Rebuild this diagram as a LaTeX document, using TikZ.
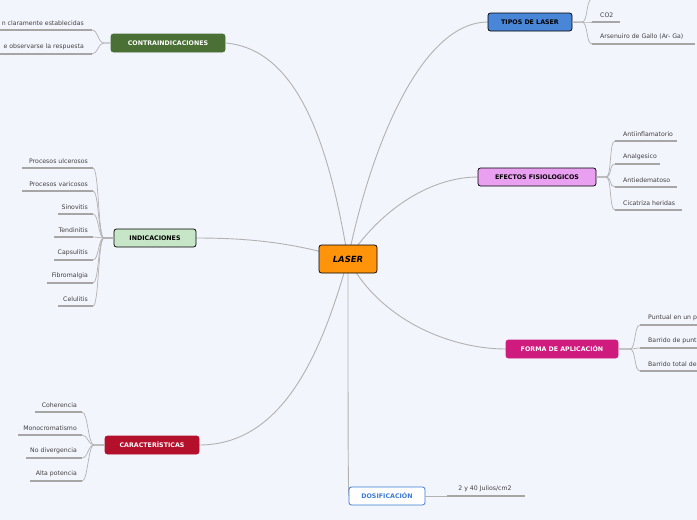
\documentclass[tikz,border=0pt]{standalone}
\usepackage{fontspec}
\setmainfont{DejaVu Sans}
\begin{document}
\begin{tikzpicture}[x=1pt,y=-1pt,
 main/.style={draw=black,rounded corners=2.5pt,font=\fontsize{6.3}{7}\selectfont\bfseries,inner sep=0pt,minimum height=18pt,line width=0.7pt},
 leaf/.style={font=\fontsize{6.2}{7}\selectfont,text=black!75,inner sep=0pt},
 uline/.style={draw=black!35,line width=2.2pt},
 conn/.style={draw=black!30,line width=0.7pt},
 br/.style={draw=black!30,line width=0.9pt}]
\fill[fill={rgb,255:red,243;green,245;blue,253}] (0,0) rectangle (697,520);
\clip (0,0) rectangle (697,520);
\definecolor{cgreen}{RGB}{74,112,53}
\definecolor{cblue}{RGB}{74,134,216}
\definecolor{cviol}{RGB}{234,160,240}
\definecolor{clg}{RGB}{199,230,199}
\definecolor{cmag}{RGB}{208,27,126}
\definecolor{cred}{RGB}{181,16,43}
\definecolor{cdb}{RGB}{58,123,213}
\definecolor{corange}{RGB}{255,148,10}
% branches
\coordinate (c) at (348,259);
\draw[br] (c) .. controls (330,150) and (300,50) .. (226,43);
\draw[br] (c) .. controls (370,150) and (420,22) .. (488,22);
\draw[br] (c) .. controls (380,210) and (430,177) .. (478,177);
\draw[br] (c) .. controls (300,245) and (260,238) .. (196,238);
\draw[br] (c) .. controls (380,320) and (450,349) .. (506,349);
\draw[br] (c) .. controls (320,360) and (280,445) .. (199,445);
\draw[br] (c) .. controls (348,400) and (348,496) .. (349,496);
% main nodes
\node[main,fill=corange,minimum width=58pt,minimum height=28pt,font=\fontsize{8.5}{9}\selectfont\bfseries\itshape] (laser) at (348,259) {LASER};
\node[main,fill=cgreen,draw=cgreen,text=white,minimum width=114pt] (contra) at (168,43) {CONTRAINDICACIONES};
\node[main,fill=cblue,minimum width=84pt] (tipos) at (530,22) {TIPOS DE LASER};
\node[main,fill=cviol,minimum width=118pt] (efectos) at (537,177) {EFECTOS FISIOLOGICOS};
\node[main,fill=clg,minimum width=82pt] (indic) at (155,238) {INDICACIONES};
\node[main,fill=cmag,draw=cmag,text=white,minimum width=112pt] (forma) at (562,349) {FORMA DE APLICACIÓN};
\node[main,fill=cred,draw=cred,text=white,minimum width=94pt] (carac) at (152,445) {CARACTERÍSTICAS};
\node[main,fill=white,draw=cdb,text=cdb,minimum width=76pt,line width=0.8pt] (dosi) at (387,496) {DOSIFICACIÓN};
% contraindicaciones leaves (left)
\foreach \t/\y [count=\i] in {n claramente establecidas/23,e observarse la respuesta/47}{
 \node[leaf,anchor=east] (cl\i) at (84,\y) {\t};
 \draw[uline] (-5,\y+7) -- (92,\y+7);
 \draw[conn] (contra.west) -- (104,43) .. controls (98,43) and (98,\y+7) .. (92,\y+7);
}
% tipos leaves
\draw[uline] (592,-1) -- (700,-1);
\draw[conn] (tipos.east) -- (582,22) .. controls (588,22) and (586,-1) .. (592,-1);
\foreach \t/\y [count=\i] in {CO2/15,Arsenuiro de Gallo (Ar- Ga)/37}{
 \node[leaf,anchor=west] (tl\i) at (600,\y) {\t};
 \draw[uline] (592,\y+7) -- (\ifnum\i=1 620\else 695\fi,\y+7);
 \draw[conn] (tipos.east) -- (582,22) .. controls (588,22) and (586,\y+7) .. (592,\y+7);
}
% efectos leaves
\foreach \t/\y/\e [count=\i] in {Antiinflamatorio/134/677,Analgesico/157/660,Antiedematoso/180/677,Cicatriza heridas/203/682}{
 \node[leaf,anchor=west] (el\i) at (623,\y) {\t};
 \draw[uline] (615,\y+7) -- (\e,\y+7);
 \draw[conn] (efectos.east) -- (606,177) .. controls (612,177) and (609,\y+7) .. (615,\y+7);
}
% indicaciones leaves
\foreach \t/\y/\s [count=\i] in {Procesos ulcerosos/161/22,Procesos varicosos/184/22,Sinovitis/207/58,Tendinitis/230/54,Capsulitis/253/54,Fibromalgia/276/47,Celulitis/299/58}{
 \node[leaf,anchor=east] (il\i) at (88,\y) {\t};
 \draw[uline] (\s,\y+7) -- (93,\y+7);
 \draw[conn] (indic.west) -- (104,238) .. controls (98,238) and (99,\y+7) .. (93,\y+7);
}
% forma leaves
\foreach \t/\y [count=\i] in {Puntual en un p/318,Barrido de punt/341,Barrido total de/364}{
 \node[leaf,anchor=west] (fl\i) at (648,\y) {\t};
 \draw[uline] (640,\y+7) -- (700,\y+7);
 \draw[conn] (forma.east) -- (630,349) .. controls (636,349) and (634,\y+7) .. (640,\y+7);
}
% caracteristicas leaves
\foreach \t/\y/\s [count=\i] in {Coherencia/405/35,Monocromatismo/428/18,No divergencia/451/26,Alta potencia/474/30}{
 \node[leaf,anchor=east] (kl\i) at (77,\y) {\t};
 \draw[uline] (\s,\y+7) -- (82,\y+7);
 \draw[conn] (carac.west) -- (94,445) .. controls (88,445) and (88,\y+7) .. (82,\y+7);
}
% dosificacion leaf
\node[leaf,anchor=center] (dl1) at (485,489) {2 y 40 Julios/cm2};
\draw[uline] (447,496) -- (525,496);
\draw[conn] (dosi.east) -- (447,496);
\end{tikzpicture}
\end{document}
